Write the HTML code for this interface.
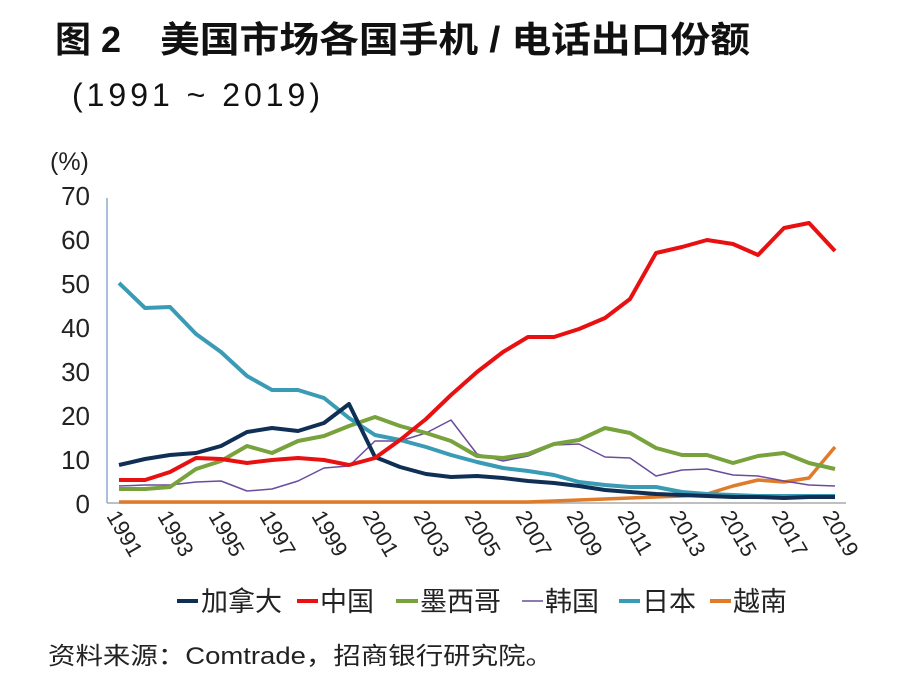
<!DOCTYPE html>
<html><head><meta charset="utf-8"><style>
body{margin:0;background:#fff;}
svg{display:block;font-family:"Liberation Sans","Noto Sans CJK SC",sans-serif;}
</style></head><body>
<svg width="900" height="697" viewBox="0 0 900 697" xmlns="http://www.w3.org/2000/svg">
<text x="55" y="52" font-size="36" fill="#111" font-weight="bold">图 2</text>
<text x="160" y="52" font-size="36" fill="#111" font-weight="bold" textLength="590" lengthAdjust="spacingAndGlyphs">美国市场各国手机 / 电话出口份额</text>
<text x="72" y="106" font-size="32" fill="#111" textLength="248" lengthAdjust="spacing">(1991 ~ 2019)</text>
<text x="50" y="170" font-size="25" fill="#222">(%)</text>
<g font-size="26" fill="#222" text-anchor="end">
<text x="90" y="205">70</text><text x="90" y="249">60</text><text x="90" y="293">50</text>
<text x="90" y="337">40</text><text x="90" y="381">30</text><text x="90" y="425">20</text>
<text x="90" y="469">10</text><text x="90" y="513">0</text>
</g>
<line x1="107" y1="198" x2="107" y2="503" stroke="#8fa8d0" stroke-width="1.5"/>
<line x1="107" y1="503" x2="846" y2="503" stroke="#aaa" stroke-width="1.5"/>
<g fill="none" stroke-linejoin="round">
<polyline stroke="#e07b2a" stroke-width="3.5" points="119,502 145,502 170,502 196,502 221,502 247,502 272,502 298,502 324,502 349,502 375,502 400,502 426,502 451,502 477,502 503,502 528,502 554,501 579,500 605,499 630,498 656,497 682,496 707,494 733,486 758,480 784,482 809,478 835,447"/>
<polyline stroke="#6a4c9c" stroke-width="1.5" points="119,486 145,485 170,485 196,482 221,481 247,491 272,489 298,481 324,468 349,466 375,441 400,441 426,433 451,420 477,454 503,461 528,456 554,445 579,444 605,457 630,458 656,476 682,470 707,469 733,475 758,476 784,481 809,485 835,486"/>
<polyline stroke="#78a23c" stroke-width="4" points="119,489 145,489 170,487 196,469 221,461 247,446 272,453 298,441 324,436 349,426 375,417 400,426 426,433 451,441 477,456 503,458 528,454 554,444 579,440 605,428 630,433 656,448 682,455 707,455 733,463 758,456 784,453 809,463 835,469"/>
<polyline stroke="#3a9bb5" stroke-width="4" points="119,283 145,308 170,307 196,334 221,352 247,376 272,390 298,390 324,398 349,418 375,435 400,440 426,447 451,455 477,462 503,468 528,471 554,475 579,482 605,485 630,487 656,487 682,492 707,494 733,495 758,496 784,496 809,496 835,496"/>
<polyline stroke="#0f2f55" stroke-width="4" points="119,465 145,459 170,455 196,453 221,446 247,432 272,428 298,431 324,423 349,404 375,457 400,467 426,474 451,477 477,476 503,478 528,481 554,483 579,486 605,490 630,492 656,494 682,495 707,496 733,497 758,497 784,498 809,497 835,497"/>
<polyline stroke="#e81010" stroke-width="4" points="119,480 145,480 170,472 196,458 221,459 247,463 272,460 298,458 324,460 349,465 375,458 400,440 426,419 451,395 477,372 503,352 528,337 554,337 579,329 605,318 630,299 656,253 682,247 707,240 733,244 758,255 784,228 809,223 835,251"/>
</g>
<g font-size="22" fill="#222">
<text transform="translate(106,516) rotate(60)">1991</text>
<text transform="translate(157,516) rotate(60)">1993</text>
<text transform="translate(208,516) rotate(60)">1995</text>
<text transform="translate(259,516) rotate(60)">1997</text>
<text transform="translate(311,516) rotate(60)">1999</text>
<text transform="translate(362,516) rotate(60)">2001</text>
<text transform="translate(413,516) rotate(60)">2003</text>
<text transform="translate(464,516) rotate(60)">2005</text>
<text transform="translate(515,516) rotate(60)">2007</text>
<text transform="translate(566,516) rotate(60)">2009</text>
<text transform="translate(617,516) rotate(60)">2011</text>
<text transform="translate(669,516) rotate(60)">2013</text>
<text transform="translate(720,516) rotate(60)">2015</text>
<text transform="translate(771,516) rotate(60)">2017</text>
<text transform="translate(822,516) rotate(60)">2019</text>
</g>
<g font-size="27" fill="#222">
<line x1="177" y1="601" x2="198" y2="601" stroke="#0f2f55" stroke-width="4"/><text x="201" y="611">加拿大</text>
<line x1="297" y1="601" x2="318" y2="601" stroke="#e81010" stroke-width="4"/><text x="320" y="611">中国</text>
<line x1="396" y1="601" x2="418" y2="601" stroke="#78a23c" stroke-width="4"/><text x="420" y="611">墨西哥</text>
<line x1="522" y1="601" x2="543" y2="601" stroke="#6a4c9c" stroke-width="1.5"/><text x="545" y="611">韩国</text>
<line x1="619" y1="601" x2="640" y2="601" stroke="#3a9bb5" stroke-width="4"/><text x="642" y="611">日本</text>
<line x1="710" y1="601" x2="731" y2="601" stroke="#e07b2a" stroke-width="4"/><text x="733" y="611">越南</text>
</g>
<text x="48" y="664" font-size="24" fill="#222" textLength="505" lengthAdjust="spacingAndGlyphs">资料来源：Comtrade，招商银行研究院。</text>
</svg>
</body></html>
